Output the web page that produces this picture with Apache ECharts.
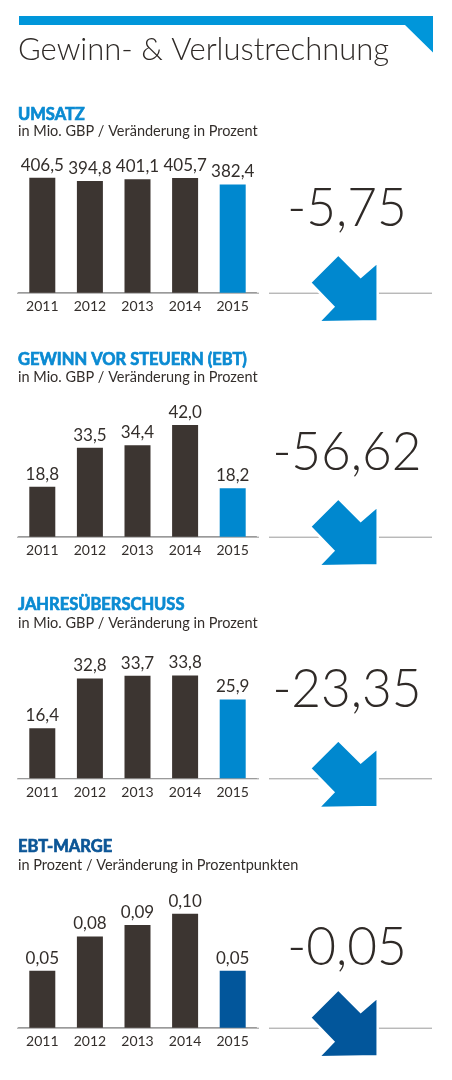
<!DOCTYPE html>
<html>
<head>
<meta charset="utf-8">
<script src="https://cdn.jsdelivr.net/npm/echarts@6/dist/echarts.min.js"></script>
<style>
html,body{margin:0;padding:0;background:#fff;}
#c{width:452px;height:1080px;}
</style>
</head>
<body>
<div id="c"></div>
<script>
// ---- data ----
const categories = ['2011', '2012', '2013', '2014', '2015'];
const umsatz = [406.5, 394.8, 401.1, 405.7, 382.4];
const ebt = [18.8, 33.5, 34.4, 42.0, 18.2];
const jahresueberschuss = [16.4, 32.8, 33.7, 33.8, 25.9];
const ebtMarge = [0.05, 0.08, 0.09, 0.10, 0.05];
const changes = ['-5,75', '-56,62', '-23,35', '-0,05'];
const panelTitles = ['UMSATZ', 'GEWINN VOR STEUERN (EBT)', 'JAHRESÜBERSCHUSS', 'EBT-MARGE'];
const panelSubtitles = [
  'in Mio. GBP / Veränderung in Prozent',
  'in Mio. GBP / Veränderung in Prozent',
  'in Mio. GBP / Veränderung in Prozent',
  'in Prozent / Veränderung in Prozentpunkten'
];
const decimals = [1, 1, 1, 2];
const mainTitle = 'Gewinn- & Verlustrechnung';

// ---- layout / style ----
const seriesData = [umsatz, ebt, jahresueberschuss, ebtMarge];
const baselines = [292.7, 536.7, 778.3, 1027.7];
const axisMax = [459.5, 48.9, 42.7, 0.114];
const gridH = 130;
const titleY = [115, 360, 605, 847];
const subY = [131.5, 377.5, 623.5, 865.5];
const numY = [209, 453, 690, 947.5];
const accent = ['#0a8ad2', '#0a8ad2', '#0a8ad2', '#0b5596'];
const barAccent = ['#0088cf', '#0088cf', '#0088cf', '#02569b'];
const dark = '#3c3531';
const textDark = '#332e2b';
const FONT = 'Lato, "Noto Sans", sans-serif';

function fmt(v, d) { return v.toFixed(d).replace('.', ','); }

const grids = [], xAxes = [], yAxes = [], series = [], graphics = [];

graphics.push({
  type: 'polygon',
  shape: { points: [[19, 16], [433, 16], [433, 52.5], [405, 25], [19, 25]] },
  style: { fill: '#0096da' }
});
graphics.push({
  type: 'text', x: 18, y: 50,
  style: { text: mainTitle, fill: '#2f2a27', font: '300 31px ' + FONT, verticalAlign: 'middle' }
});

for (let i = 0; i < 4; i++) {
  const B = baselines[i];
  grids.push({ left: 18.5, width: 238, top: B - gridH, height: gridH });
  xAxes.push({
    type: 'category', gridIndex: i, data: categories,
    axisLine: { show: true, lineStyle: { color: '#9a9a9a', width: 1 } },
    axisTick: { show: false },
    axisLabel: { color: textDark, fontSize: 14, fontFamily: FONT, margin: 7 }
  });
  yAxes.push({ type: 'value', gridIndex: i, min: 0, max: axisMax[i], show: false, splitLine: { show: false } });
  const d = decimals[i];
  series.push({
    type: 'bar', xAxisIndex: i, yAxisIndex: i, barWidth: 26,
    data: seriesData[i].map((v, j) => ({
      value: v,
      itemStyle: { color: j === seriesData[i].length - 1 ? barAccent[i] : dark }
    })),
    label: {
      show: true, position: 'top', distance: 4,
      color: textDark, fontSize: 17, fontFamily: FONT,
      formatter: p => fmt(p.value, d)
    },
    silent: true, animation: false
  });

  graphics.push({ type: 'line', shape: { x1: 17, y1: B + 0.5, x2: 259, y2: B + 0.5 }, style: { stroke: '#9a9a9a', lineWidth: 1 }, z: 0 });

  graphics.push({
    type: 'text', x: 18, y: titleY[i],
    style: { text: panelTitles[i], fill: accent[i], stroke: accent[i], lineWidth: 0.7, font: '700 16.5px ' + FONT, verticalAlign: 'middle' }
  });
  graphics.push({
    type: 'text', x: 18, y: subY[i],
    style: { text: panelSubtitles[i], fill: textDark, font: '400 14.5px ' + FONT, verticalAlign: 'middle' }
  });

  graphics.push({
    type: 'text', x: 347, y: numY[i], scaleX: 0.95,
    style: { text: changes[i], fill: '#2f2a27', font: '300 54px ' + FONT, align: 'center', verticalAlign: 'middle' }
  });
  graphics.push({ type: 'line', shape: { x1: 269, y1: B + 0.5, x2: 432, y2: B + 0.5 }, style: { stroke: '#9a9a9a', lineWidth: 1 } });
  const rel = [[338.3, -38.3], [360.7, -16], [377.7, -30.6], [377.7, 28.6], [318.3, 29.6], [333.3, 14], [310, -10]];
  graphics.push({
    type: 'polygon', z: 10,
    shape: { points: rel.map(p => [p[0], B + p[1]]) },
    style: { fill: barAccent[i], stroke: '#fff', lineWidth: 2.5 }
  });
}

const chart = echarts.init(document.getElementById('c'), null, { renderer: 'canvas' });
chart.setOption({
  animation: false,
  grid: grids, xAxis: xAxes, yAxis: yAxes, series: series,
  graphic: graphics
});
</script>
</body>
</html>
